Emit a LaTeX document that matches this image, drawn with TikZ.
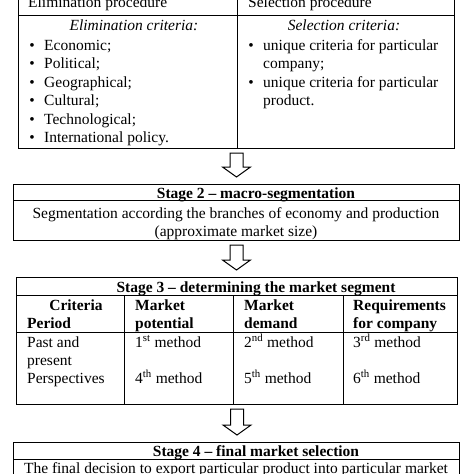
\documentclass[tikz,border=0pt]{standalone}
\usepackage{fontspec}
\setmainfont{Liberation Serif}
\usetikzlibrary{positioning,calc}

% hollow block arrow from one box down to the next
\newcommand{\blockarrow}[2]{%
  \path[arrow] let \p1=(#1.south), \p2=(#2.north) in
    (\x1-6.5pt,\y1-4pt) -- (\x1+6.5pt,\y1-4pt) -- (\x1+6.5pt,\y2+17pt) --
    (\x1+14pt,\y2+17pt) -- (\x1,\y2+7pt) -- (\x1-14pt,\y2+17pt) --
    (\x1-6.5pt,\y2+17pt) -- cycle;}

\begin{document}
\begin{tikzpicture}[
    x=1pt, y=-1pt,
    box/.style={rectangle, draw=black, line width=1pt, inner sep=0pt, anchor=north west},
    txt/.style={inner sep=0pt, anchor=base west, font=\fontsize{15.5}{18.5}\selectfont},
    ctxt/.style={txt, anchor=base},
    title/.style={ctxt, font=\fontsize{15.5}{18.5}\selectfont\bfseries},
    head/.style={txt, font=\fontsize{15.5}{18.5}\selectfont\bfseries},
    rule/.style={draw=black, line width=1pt},
    arrow/.style={draw=black, line width=1pt, fill=white, line join=miter}
]
\useasboundingbox (0,0) rectangle (474,474);
\clip (0,0) rectangle (474,474);

% Boxes
\node (stage1) [box, minimum width=436pt, minimum height=173pt] at (18,-25) {};
\node (stage2) [box, minimum width=446pt, minimum height=56pt] at (13,184) {};
\node (stage3) [box, minimum width=441pt, minimum height=127pt] at (16,277) {};
\node (stage4) [box, minimum width=446pt, minimum height=80pt] at (13,442) {};

% Rules
\draw [rule] (18,15) -- (454,15);
\draw [rule] (237,-25) -- (237,148);
\draw [rule] (13,200) -- (459,200);
\draw [rule] (16,295) -- (457,295);
\draw [rule] (16,332) -- (457,332);
\foreach \cx in {124,233,343}
  \draw [rule] (\cx,295) -- (\cx,404);
\draw [rule] (13,459) -- (459,459);

% Stage 1
\node (elimhead) [txt] at (28,7) {Elimination procedure};
\node (selhead) [txt] at (248,7) {Selection procedure};
\node (elimcrit) [ctxt, font=\fontsize{15.5}{18.5}\selectfont\itshape] at (134,30) {Elimination criteria:};
\node (selcrit) [ctxt, font=\fontsize{15.5}{18.5}\selectfont\itshape] at (344,30) {Selection criteria:};
\foreach \crit [count=\i] in {Economic;, Political;, Geographical;, Cultural;, Technological;, International policy.} {
  \node (bul\i) [ctxt] at (32,{50+18.5*(\i-1)}) {\textbullet};
  \node (elim\i) [txt] at (44,{50+18.5*(\i-1)}) {\crit};
}
\node (selbul1) [ctxt] at (251,50) {\textbullet};
\node (sel1) [txt] at (263,50) {unique criteria for particular};
\node (sel1b) [txt] at (263,68.5) {company;};
\node (selbul2) [ctxt] at (251,87) {\textbullet};
\node (sel2) [txt] at (263,87) {unique criteria for particular};
\node (sel2b) [txt] at (263,105.5) {product.};

% Stage 2
\node (title2) [title] at (256,198) {Stage 2 -- macro-segmentation};
\node (seg1) [ctxt] at (236,218) {Segmentation according the branches of economy and production};
\node (seg2) [ctxt] at (236,236) {(approximate market size)};

% Stage 3
\node (title3) [title] at (256,292) {Stage 3 -- determining the market segment};
\node (critcol) [title] at (76,310) {Criteria};
\node (percol) [head] at (27,328) {Period};
\node (pot1) [head] at (135,310) {Market};
\node (pot2) [head] at (135,328) {potential};
\node (dem1) [head] at (244,310) {Market};
\node (dem2) [head] at (244,328) {demand};
\node (req1) [head] at (353,310) {Requirements};
\node (req2) [head] at (353,328) {for company};
\node (past1) [txt] at (27,347) {Past and};
\node (past2) [txt] at (27,365.5) {present};
\node (persp) [txt] at (27,383) {Perspectives};
\node (m1) [txt] at (135,347) {1\textsuperscript{st} method};
\node (m2) [txt] at (244,347) {2\textsuperscript{nd} method};
\node (m3) [txt] at (353,347) {3\textsuperscript{rd} method};
\node (m4) [txt] at (135,383) {4\textsuperscript{th} method};
\node (m5) [txt] at (244,383) {5\textsuperscript{th} method};
\node (m6) [txt] at (353,383) {6\textsuperscript{th} method};

% Stage 4
\node (title4) [title] at (256,456) {Stage 4 -- final market selection};
\node (final) [ctxt] at (236,473.5) {The final decision to export particular product into particular market};

% Arrows
\blockarrow{stage1}{stage2}
\blockarrow{stage2}{stage3}
\blockarrow{stage3}{stage4}

\end{tikzpicture}
\end{document}
